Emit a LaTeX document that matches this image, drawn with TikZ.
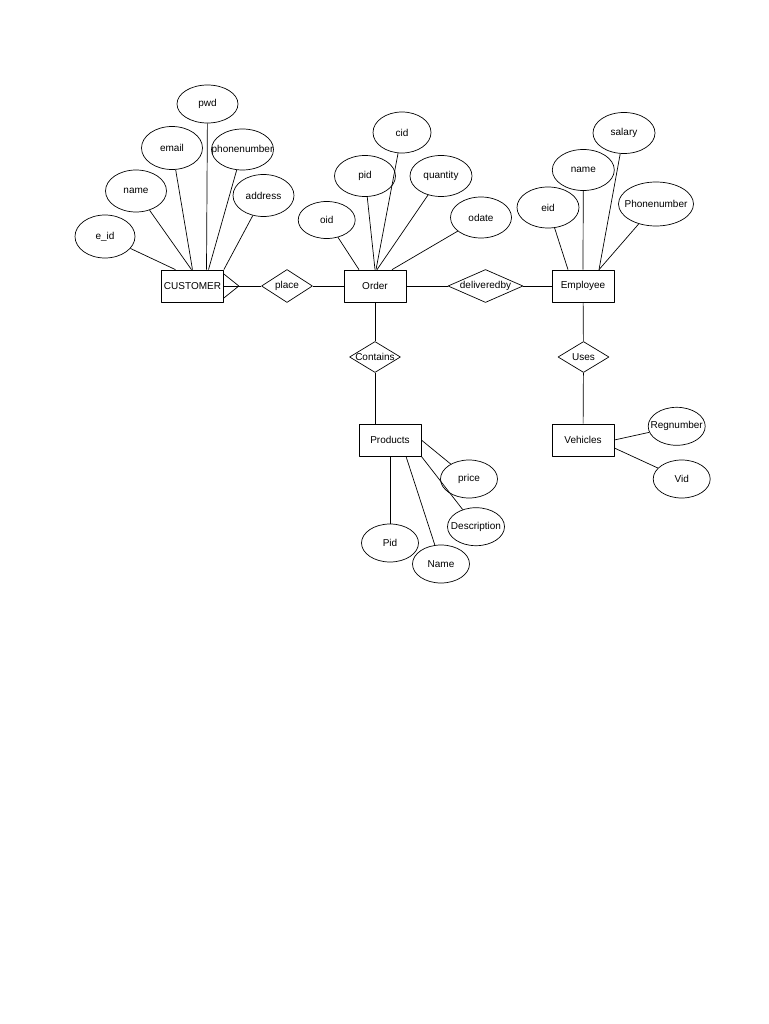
\documentclass[tikz,border=0pt]{standalone}
\usepackage{fontspec}
\setmainfont{Liberation Sans}
\usetikzlibrary{shapes.geometric}
\tikzset{
	entity/.style={draw, rectangle, minimum width=62pt, minimum height=32pt, inner sep=0pt},
	attr/.style={draw, ellipse, minimum width=61pt, minimum height=41pt, inner sep=0pt},
	smallattr/.style={attr, minimum width=57pt, minimum height=38pt},
	rel/.style={draw, diamond, minimum width=51pt, minimum height=33pt, inner sep=0pt},
}
\begin{document}
\begin{tikzpicture}[x=1pt, y=-1pt, font=\fontsize{10}{12}\selectfont, line width=0.7pt, line join=round]
	\useasboundingbox (0,0) rectangle (768,1024);
	\node[entity] (cust) at (192.5,286) {CUSTOMER};
	\node[entity] (ord) at (375,286) {Order};
	\node[entity] (emp) at (583,286) {Employee};
	\node[entity] (prod) at (390,440) {Products};
	\node[entity] (veh) at (583,440) {Vehicles};
	\node[rel, label=center:place] (place) at (287,286) {};
	\node[rel, minimum width=75pt, label=center:deliveredby] (deliv) at (485.5,286) {};
	\node[rel, minimum height=31pt, label=center:Contains] (cont) at (375,357) {};
	\node[rel, minimum height=31pt, label=center:Uses] (uses) at (583.5,357) {};
	\node[attr, minimum height=38pt, label=center:pwd] (cpwd) at (207.5,104) {};
	\node[attr, minimum height=43pt, label=center:email] (cemail) at (172,148) {};
	\node[attr, minimum width=62pt, label=center:phonenumber] (cphone) at (242.5,149.5) {};
	\node[attr, minimum height=42pt, label=center:name] (cname) at (136,191) {};
	\node[attr, minimum height=42pt, label=center:address] (caddr) at (263.5,195.5) {};
	\node[attr, minimum width=60pt, minimum height=43pt, label=center:e\_id] (ceid) at (105,236.5) {};
	\node[attr, minimum width=58pt, label=center:cid] (ocid) at (402,132.5) {};
	\node[attr, label=center:pid] (opid) at (365,176) {};
	\node[attr, minimum width=62pt, label=center:quantity] (oqty) at (441,176) {};
	\node[attr, minimum width=57pt, minimum height=37pt, label=center:oid] (ooid) at (326.7,220) {};
	\node[attr, label=center:odate] (odate) at (481,217.5) {};
	\node[attr, minimum width=62pt, label=center:salary] (esal) at (624,133) {};
	\node[attr, minimum width=62pt, label=center:name] (ename) at (583.3,170) {};
	\node[attr, minimum width=62pt, label=center:eid] (eeid) at (548,207.5) {};
	\node[attr, minimum width=75pt, minimum height=44pt, label=center:Phonenumber] (ephone) at (656,204) {};
	\node[smallattr, label=center:price] (pprice) at (469,479) {};
	\node[smallattr, label=center:Description] (pdesc) at (476,526.7) {};
	\node[smallattr, label=center:Pid] (ppid) at (390,543) {};
	\node[smallattr, label=center:Name] (pname) at (441,564) {};
	\node[smallattr, label=center:Regnumber] (vreg) at (676.7,426.3) {};
	\node[smallattr, label=center:Vid] (vvid) at (681.7,479) {};

	\draw (ceid) -- ([xshift=-17pt]cust.north);
	\draw (cname) -- ([xshift=-1pt]cust.north);
	\draw (cemail) -- (cust.north);
	\draw (cpwd) -- ([xshift=14pt]cust.north);
	\draw (cphone) -- ([xshift=16pt]cust.north);
	\draw (caddr) -- (cust.north east);
	\coordinate (cf) at ([xshift=15pt]cust.east);
	\draw ([yshift=12pt]cust.east) -- (cf) -- ([yshift=-12pt]cust.east);
	\draw (cust.east) -- (place);
	\draw (place) -- (ord);
	\draw (ooid) -- ([xshift=-16pt]ord.north);
	\draw (opid) -- (ord.north);
	\draw (ocid) -- ([xshift=1pt]ord.north);
	\draw (oqty) -- ([xshift=2pt]ord.north);
	\draw (odate) -- ([xshift=17pt]ord.north);
	\draw (ord) -- (deliv);
	\draw (deliv) -- (emp);
	\draw (eeid) -- ([xshift=-15pt]emp.north);
	\draw (ename) -- (emp.north);
	\draw (esal) -- ([xshift=16pt]emp.north);
	\draw (ephone) -- ([xshift=16pt]emp.north);
	\draw (ord) -- (cont);
	\draw (cont) -- (cont |- prod.north);
	\draw (emp) -- (uses);
	\draw (uses) -- (veh);
	\draw (prod.east) -- (pprice);
	\draw (prod.south east) -- (pdesc);
	\draw (prod.south) -- (ppid);
	\draw ([xshift=16pt]prod.south) -- (pname);
	\draw (veh.east) -- (vreg);
	\draw ([yshift=-8pt]veh.east) -- (vvid);
\end{tikzpicture}
\end{document}
